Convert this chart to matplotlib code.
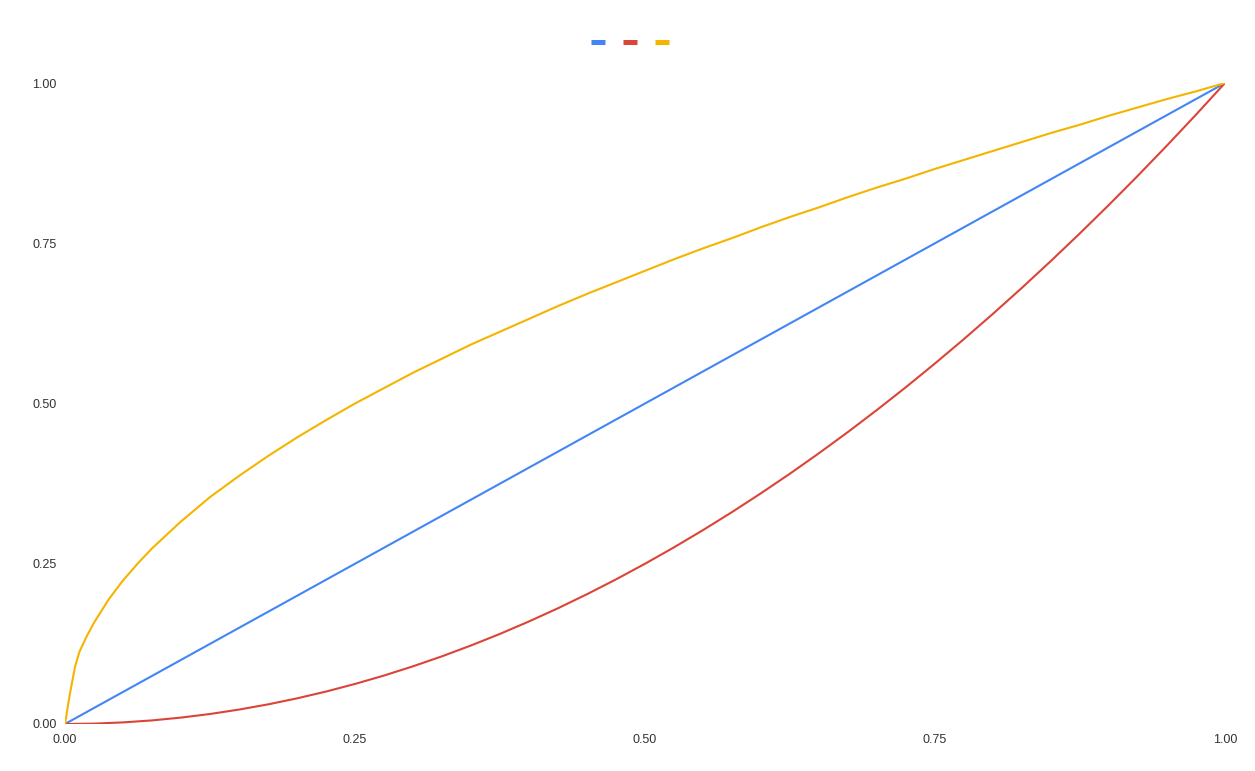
import matplotlib.pyplot as plt
from matplotlib.lines import Line2D

# values
x = [0, 0.025, 0.05, 0.075, 0.1, 0.125, 0.15, 0.175, 0.2, 0.225, 0.25, 0.275,
     0.3, 0.325, 0.35, 0.375, 0.4, 0.425, 0.45, 0.475, 0.5, 0.525, 0.55, 0.575,
     0.6, 0.625, 0.65, 0.675, 0.7, 0.725, 0.75, 0.775, 0.8, 0.825, 0.85, 0.875,
     0.9, 0.925, 0.95, 0.975, 1.0]
linear = list(x)
square = [0, 0.0006, 0.0025, 0.0056, 0.01, 0.0156, 0.0225, 0.0306, 0.04, 0.0506,
          0.0625, 0.0756, 0.09, 0.1056, 0.1225, 0.1406, 0.16, 0.1806, 0.2025,
          0.2256, 0.25, 0.2756, 0.3025, 0.3306, 0.36, 0.3906, 0.4225, 0.4556,
          0.49, 0.5256, 0.5625, 0.6006, 0.64, 0.6806, 0.7225, 0.7656, 0.81,
          0.8556, 0.9025, 0.9506, 1.0]
x_root = [0, 0.004, 0.0086, 0.0125, 0.01875, 0.025, 0.0375, 0.05, 0.0625] + x[3:]
root = [0, 0.045, 0.089, 0.113, 0.137, 0.158, 0.194, 0.224, 0.25, 0.274, 0.316,
        0.354, 0.387, 0.418, 0.447, 0.474, 0.5, 0.524, 0.548, 0.57, 0.592, 0.612,
        0.632, 0.652, 0.671, 0.689, 0.707, 0.725, 0.742, 0.758, 0.775, 0.791,
        0.806, 0.822, 0.837, 0.851, 0.866, 0.88, 0.894, 0.908, 0.922, 0.935,
        0.949, 0.962, 0.975, 0.987, 1.0]
ticks = [0, 0.25, 0.5, 0.75, 1.0]
colors = ["#4285F4", "#DB4437", "#F4B400"]

plt.rcParams['font.family'] = ['Liberation Sans', 'DejaVu Sans']

fig = plt.figure(figsize=(12.55, 7.71), dpi=100)
ax = fig.add_axes([65 / 1255, 47 / 771, 1160 / 1255, 641 / 771])

series = [(x, linear), (x, square), (x_root, root)]
for (xs, ys), c in zip(series, colors):
    ax.plot(xs, ys, color=c, lw=1.5, solid_capstyle="round", solid_joinstyle="round")

ax.set_xlim(0, 1)
ax.set_ylim(0, 1)
ax.set_xticks(ticks)
ax.set_yticks(ticks)
ax.set_xticklabels(["%.2f" % t for t in ticks])
ax.set_yticklabels(["%.2f" % t for t in ticks])
ax.tick_params(length=0, labelsize=9, labelcolor="#333333")
ax.tick_params(axis="x", pad=7)
ax.tick_params(axis="y", pad=6)
for s in ax.spines.values():
    s.set_visible(False)

handles = [Line2D([], [], color=c, lw=3.6, solid_capstyle="butt") for c in colors]
fig.legend(handles, ["", "", ""], loc="center", bbox_to_anchor=(629.5 / 1255, 1 - 43 / 771),
           ncol=3, frameon=False, fontsize=9, handlelength=1.12, handletextpad=0,
           columnspacing=1.44)

fig.savefig("out.png", dpi=100)
